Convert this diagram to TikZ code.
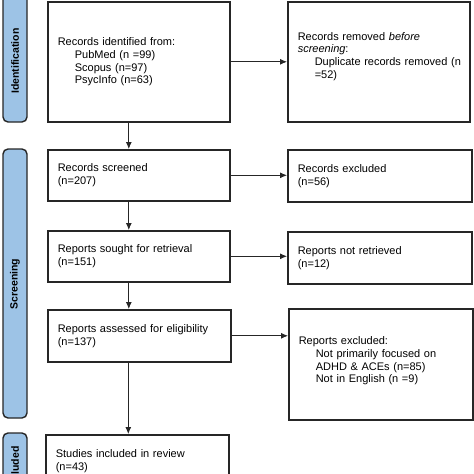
\documentclass[tikz,border=0pt]{standalone}
\usepackage{fontspec}
\setmainfont{Liberation Sans}
\usetikzlibrary{arrows.meta}
\definecolor{barblue}{HTML}{9DC3E6}
\definecolor{lineg}{HTML}{262626}
\begin{document}
\begin{tikzpicture}[x=1pt,y=-1pt,
  box/.style={draw=lineg, line width=1.6pt, fill=white, inner xsep=10pt, inner ysep=0pt, anchor=north west, align=left, font=\fontsize{11}{12.8}\selectfont, text=black},
  bar/.style={draw=lineg, line width=1.4pt, fill=barblue, rounded corners=5pt},
  arr/.style={draw=lineg, line width=0.8pt, -{Latex[length=7pt,width=6pt]}},
  barlabel/.style={rotate=90, font=\fontsize{10.5}{12}\selectfont\bfseries, text=black}
]
\useasboundingbox (0,0) rectangle (474,474);
\clip (0,0) rectangle (474,474);
% phase bars
\draw[bar] (3,-6) rectangle (27,122);
\draw[bar] (3,149) rectangle (27,418);
\draw[bar] (3,433) rectangle (27,506);
\node[barlabel] (lid) at (15,61) {Identification};
\node[barlabel] (lsc) at (15,284) {Screening};
\node[barlabel] (lin) at (15,468) {Included};
% boxes
\node[box, minimum width=182pt, minimum height=120pt, text width=162pt] (ident) at (47,1)
  {Records identified from:\\
   \hspace*{17pt}PubMed (n =99)\\
   \hspace*{17pt}Scopus (n=97)\\
   \hspace*{17pt}PsycInfo (n=63)};
\node[box, minimum width=182pt, minimum height=120pt, text width=162pt] (removed) at (287,1)
  {Records removed \textit{before}\\
   \textit{screening}:\\
   \hspace*{17pt}\mbox{Duplicate records removed (n}\\
   \hspace*{17pt}=52)\rule[-13pt]{0pt}{13pt}};
\node[box, minimum width=182pt, minimum height=51pt, text width=162pt] (screened) at (47,149)
  {Records screened\\(n=207)};
\node[box, minimum width=184pt, minimum height=52pt, text width=164pt] (excl1) at (287,149)
  {Records excluded\\(n=56)};
\node[box, minimum width=182pt, minimum height=51pt, text width=162pt] (sought) at (47,230)
  {Reports sought for retrieval\\(n=151)};
\node[box, minimum width=184pt, minimum height=52pt, text width=164pt] (notret) at (287,231)
  {Reports not retrieved\\(n=12)};
\node[box, minimum width=183pt, minimum height=52pt, text width=163pt] (assessed) at (47,309)
  {Reports assessed for eligibility\\(n=137)};
\node[box, minimum width=184pt, minimum height=111pt, text width=164pt] (excl2) at (288,308)
  {Reports excluded:\\
   \hspace*{17pt}Not primarily focused on\\
   \hspace*{17pt}ADHD \& ACEs (n=85)\\
   \hspace*{17pt}Not in English (n =9)\rule[-9pt]{0pt}{9pt}};
\node[box, minimum width=183pt, minimum height=52pt, text width=163pt] (included) at (45,434)
  {Studies included in review\\(n=43)};
% connectors
\draw[arr] (ident.east) -- (ident.east -| removed.west);
\draw[arr] (screened.east) -- (screened.east -| excl1.west);
\draw[arr] (sought.east) -- (sought.east -| notret.west);
\draw[arr] (assessed.east) -- (assessed.east -| excl2.west);
\draw[arr] ([xshift=-10pt]ident.south) -- ([xshift=-10pt]ident.south |- screened.north);
\draw[arr] ([xshift=-10pt]screened.south) -- ([xshift=-10pt]screened.south |- sought.north);
\draw[arr] ([xshift=-10pt]sought.south) -- ([xshift=-10pt]sought.south |- assessed.north);
\draw[arr] ([xshift=-11pt]assessed.south) -- ([xshift=-11pt]assessed.south |- included.north);
\end{tikzpicture}
\end{document}
